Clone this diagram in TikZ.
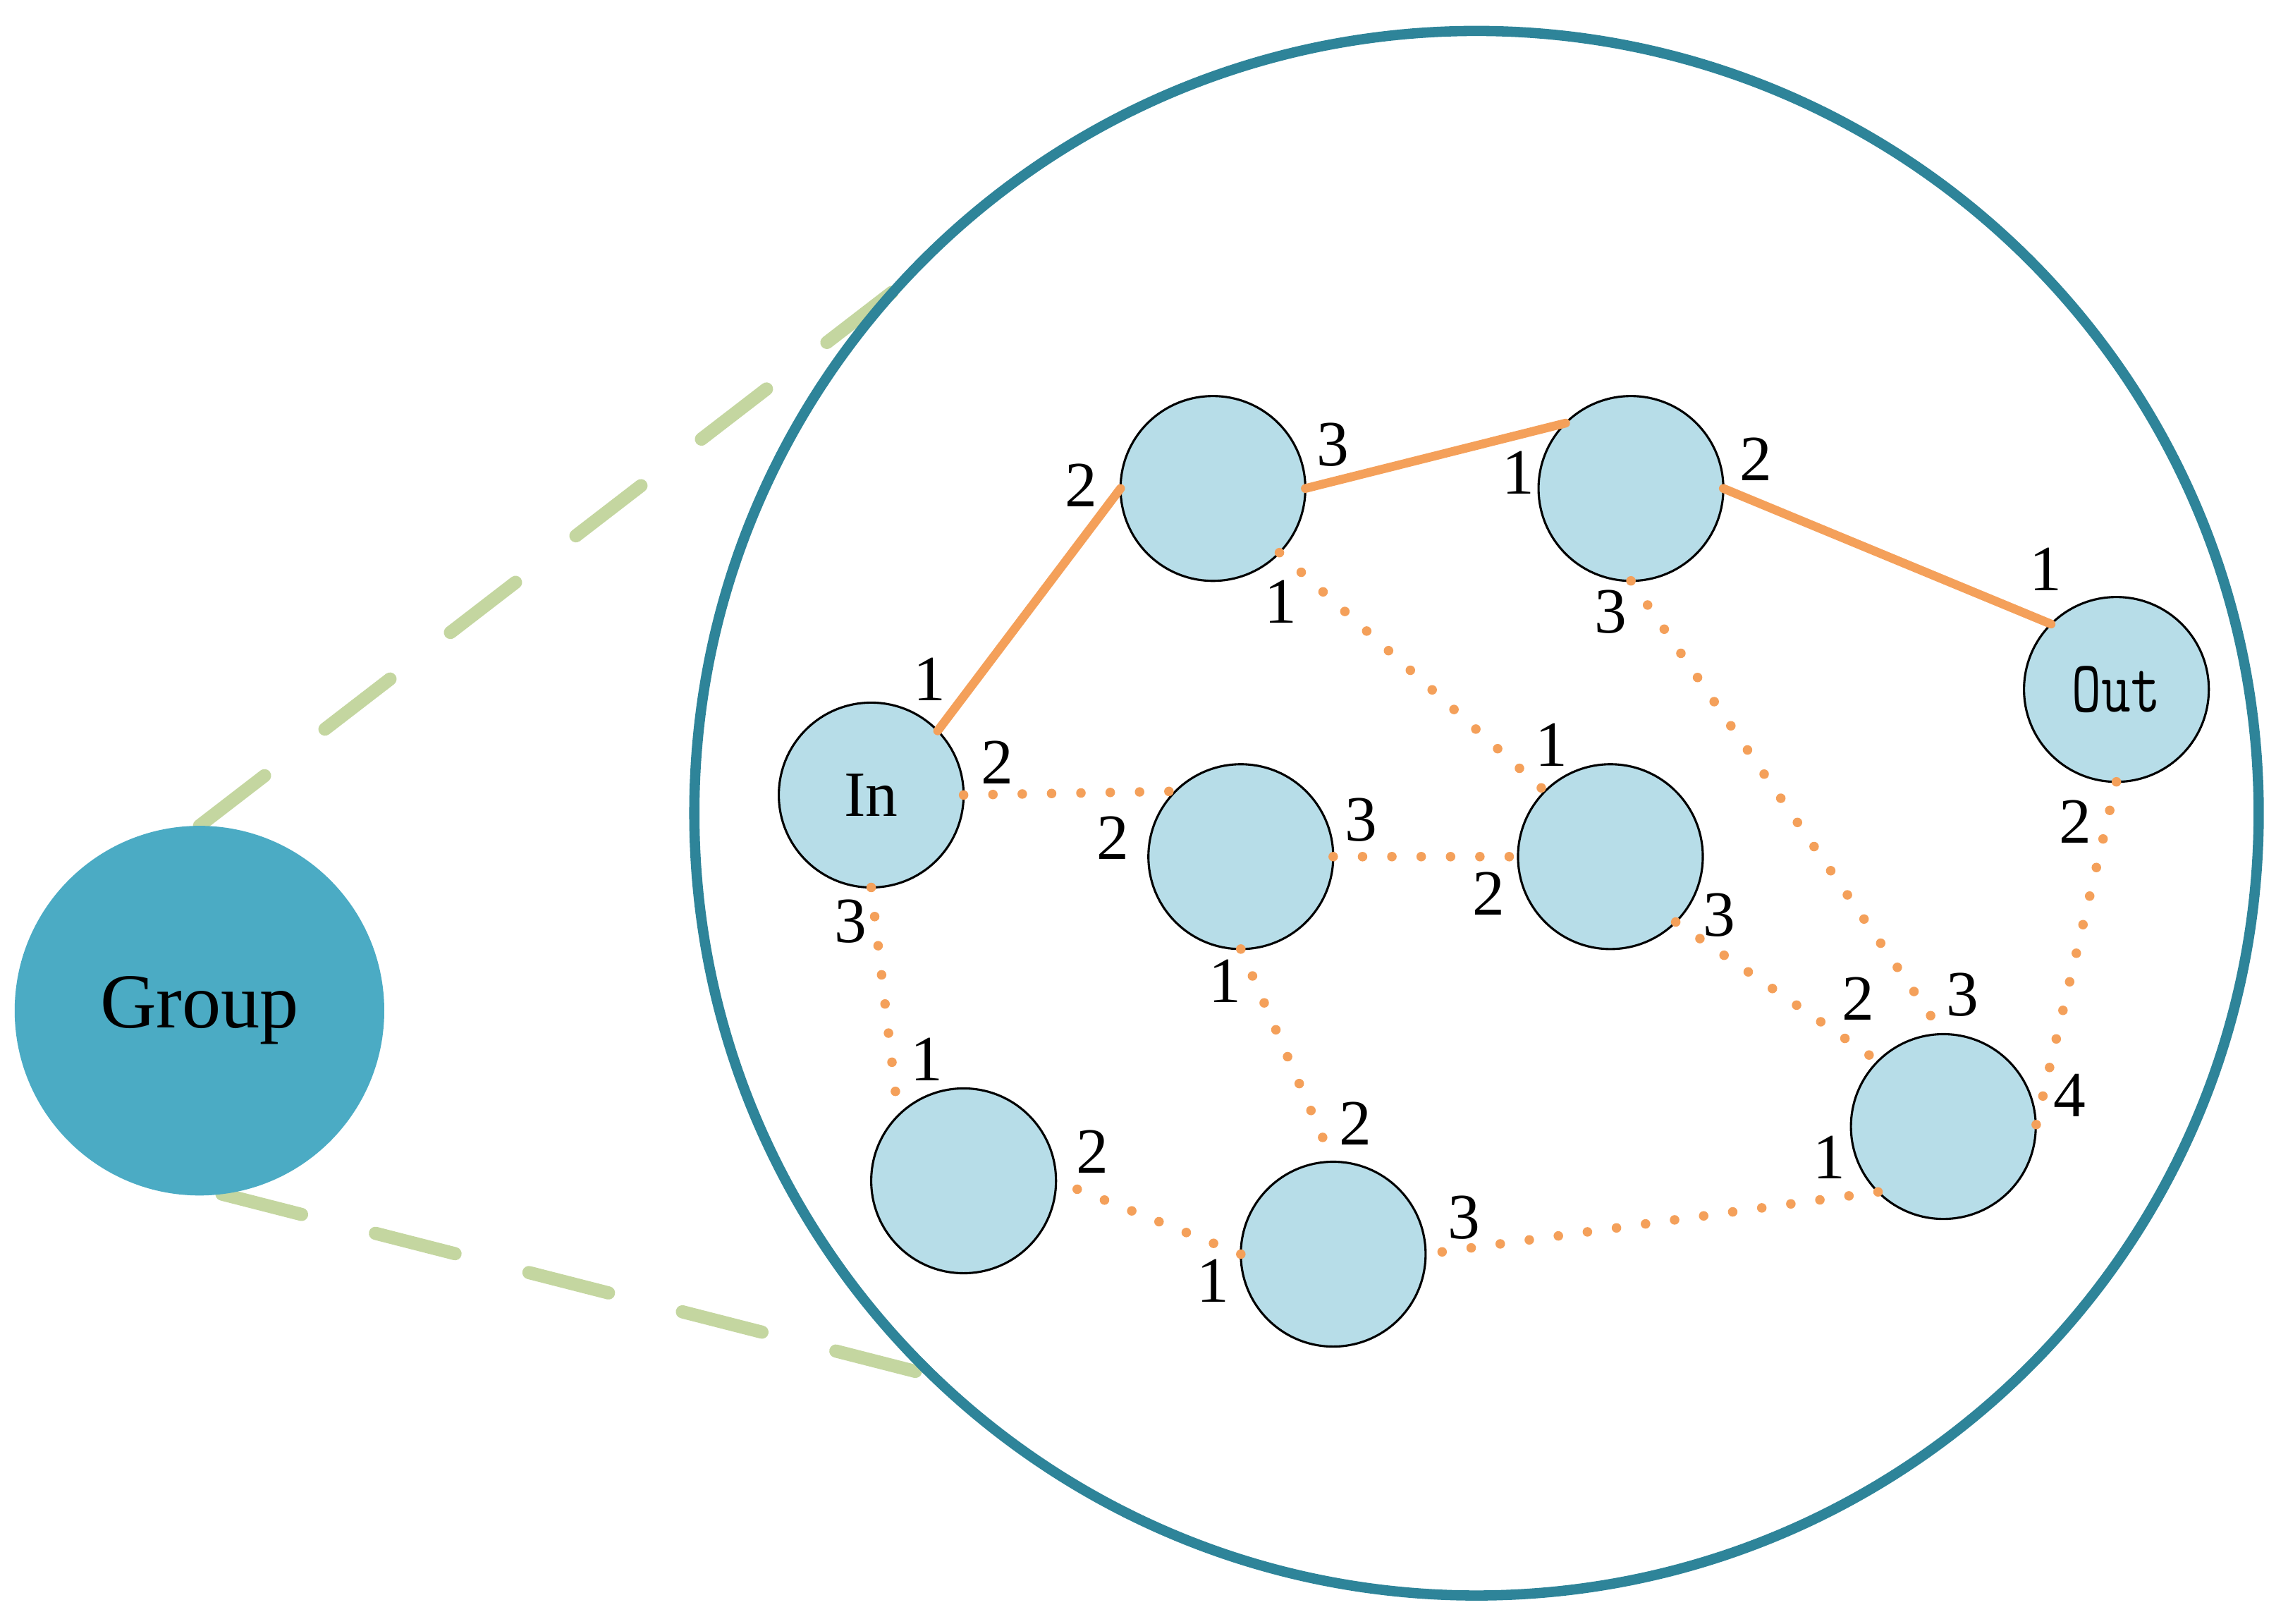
\documentclass[tikz,border=0pt]{standalone}
\usepackage{fontspec}
\setmainfont{Liberation Serif}
\usetikzlibrary{backgrounds}
\definecolor{ringc}{HTML}{2E8499}
\definecolor{groupc}{HTML}{4BABC4}
\definecolor{nodec}{HTML}{B7DDE8}
\definecolor{edgec}{HTML}{F4A05A}
\definecolor{greenc}{HTML}{C4D6A0}
\begin{document}
\begin{tikzpicture}[x=1pt,y=-1pt,
  unit/.style={circle, draw=black, line width=1.5pt, fill=nodec, minimum size=126pt, inner sep=0pt, outer sep=0pt, font=\fontsize{44}{44}\selectfont},
  port/.style={inner sep=0pt, font=\fontsize{44}{44}\selectfont},
  solidedge/.style={draw=edgec, line width=6pt, line cap=round},
  dotedge/.style={draw=edgec, line width=6.5pt, line cap=round, dash pattern=on 0pt off 20pt},
  zoomline/.style={draw=greenc, line width=9pt, line cap=round, dash pattern=on 56pt off 52pt}]
\useasboundingbox (0,0) rectangle (1560,1107);
% group node
\node[circle, fill=groupc, minimum size=252pt, inner sep=0pt, outer sep=0pt, font=\fontsize{53}{53}\selectfont] (grp) at (136,689) {Group};
% ring
\node[circle, draw=ringc, line width=7pt, minimum size=1066.6pt, inner sep=0pt, outer sep=0pt] (ring) at (1006.7,554.4) {};
\begin{scope}[on background layer]
  \draw[zoomline] (grp.north) -- (ring.138);
  \draw[zoomline] (grp.-83) -- (ring.-134.2);
\end{scope}
% units
\node[unit] (In) at (594,542) {In};
\node[unit] (A) at (827,333) {};
\node[unit] (B) at (1112,333) {};
\node[unit] (Out) at (1443,470) {\ttfamily\fontsize{50}{50}\selectfont\scalebox{0.78}[1]{Out}};
\node[unit] (C) at (846,584) {};
\node[unit] (D) at (1098,584) {};
\node[unit] (G) at (1325,768) {};
\node[unit] (E) at (657,805) {};
\node[unit] (F) at (909,855) {};
% edges
\draw[solidedge] (In.44) -- (A.west);
\draw[solidedge] (A.east) -- (B.135);
\draw[solidedge] (B.east) -- (Out.135);
\draw[dotedge] (In.east) -- (C.135);
\draw[dotedge] (A.-44) -- (D.135);
\draw[dotedge] (B.south) -- (G.north);
\draw[dotedge] (C.east) -- (D.west);
\draw[dotedge] (D.-45) -- (G.135);
\draw[dotedge] (Out.south) -- (G.east);
\draw[dotedge] (In.south) -- (E.135);
\draw[dotedge] (C.south) -- (F.north);
\draw[dotedge] (F.west) -- (E.east);
\draw[dotedge] (G.-135) -- (F.east);
% port labels
\node[port] (p1) at (634,463) {1};
\node[port] (p2) at (737,331) {2};
\node[port] (p3) at (909,303) {3};
\node[port] (p4) at (1035,322) {1};
\node[port] (p5) at (1197,313) {2};
\node[port] (p6) at (1395,388) {1};
\node[port] (p7) at (680,520) {2};
\node[port] (p8) at (759,571) {2};
\node[port] (p9) at (873,410) {1};
\node[port] (p10) at (1058,508) {1};
\node[port] (p11) at (1098,417) {3};
\node[port] (p12) at (1338,678) {3};
\node[port] (p13) at (928,559) {3};
\node[port] (p14) at (1015,609) {2};
\node[port] (p15) at (1172,624) {3};
\node[port] (p16) at (1267,681) {2};
\node[port] (p17) at (1415,560) {2};
\node[port] (p18) at (1411,747) {4};
\node[port] (p19) at (580,628) {3};
\node[port] (p20) at (632,722) {1};
\node[port] (p21) at (835,669) {1};
\node[port] (p22) at (924,766) {2};
\node[port] (p23) at (745,785) {2};
\node[port] (p24) at (827,873) {1};
\node[port] (p25) at (998,830) {3};
\node[port] (p26) at (1247,789) {1};
\end{tikzpicture}
\end{document}
